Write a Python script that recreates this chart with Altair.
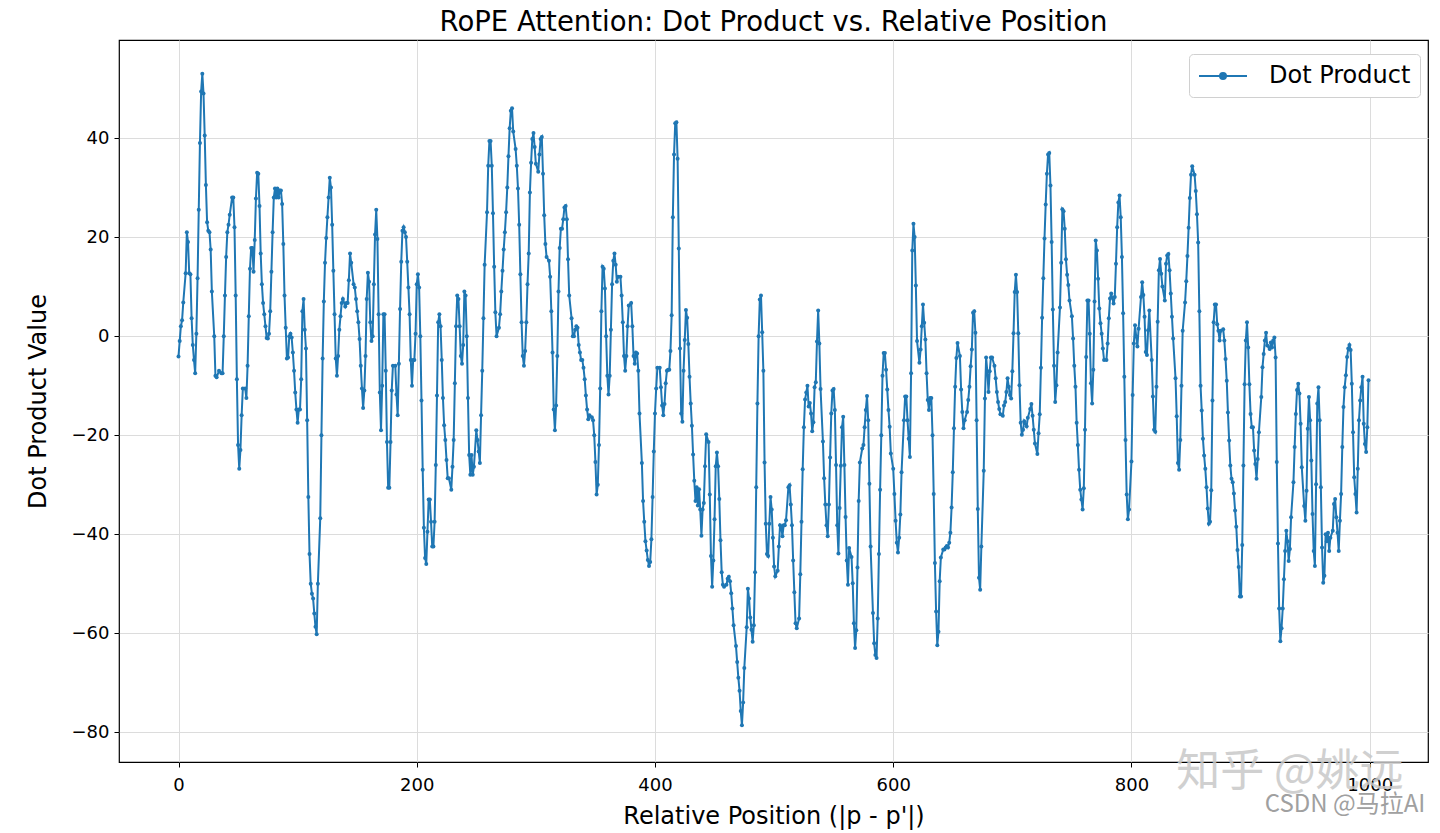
import altair as alt
import pandas as pd

# Relative position |p - p'| and dot product
seg_000 = [(0,-4.1),(1,-1),(2,2),(3,3.2),(4,6.8),(6,12.7),(7,21),(8,19),(9,12.7),(10,12.5),(11,3.6),(12,-1.8),(13,-4.8),(14,-7.5),(15,0.5),(16,11.7),(17,25.5),(18,39),(19,49.4),(20,53),(21,49),(22,40.5),(23,30.5),(24,23),(25,21.3),(26,21),(27,17.5),(28,9),(30,0),(31,-8),(32,-8.3),(34,-7),(36,-7.5),(37,-7.5),(38,0),(39,8.2),(40,16),(41,21),(42,22.5),(43,24.5),(45,28),(46,28),(47,22),(48,8.2),(49,-8.7),(50,-22),(51,-26.8),(52,-23),(53,-16),(54,-10.6),(56,-10.6),(57,-12.5),(58,-6),(59,4),(60,13.6),(61,17.8),(62,17.8),(63,13),(64,19.4),(65,27.8),(66,33),(67,32.8),(68,26.3),(69,16.7),(70,10.5),(71,6.7),(72,4.4),(73,2),(74,-0.4),(75,-0.5),(76,0.5),(77,5)]
seg_078 = [(78,13),(79,21),(80,28),(81,29.8),(82,28),(83,29.8),(84,28),(85,29.4),(86,29.4),(87,26.7),(88,18.6),(89,8.2),(90,1.7),(91,-4.5),(92,-4.3),(93,0),(94,0.5),(95,-0.3),(96,-3.3),(97,-7),(98,-11.4),(99,-14.8),(100,-17.5),(101,-14.8),(102,-14.8),(103,-8.7),(104,5),(105,7.5),(106,1.3),(107,-2.5),(108,-17),(109,-32.5),(110,-44),(111,-50),(112,-52),(113,-53),(114,-56),(115,-58.7),(116,-60.2),(117,-50),(119,-36.8),(120,-20),(121,-4.5),(122,7),(123,14.8),(124,19.8),(125,24),(126,28),(127,32),(128,30),(129,22.5),(130,13.2),(131,4.4),(132,-4.5),(133,-8),(134,-4),(135,1.3),(136,4),(137,6.7),(138,7.5),(140,6),(141,6.7),(142,6.7),(143,11.3),(144,16.7),(145,14.8),(147,10.5),(148,9.8),(149,7.5),(150,5),(151,2.8),(152,-0.6),(153,-6),(154,-10.6),(155,-14.5),(156,-11),(157,-4),(158,7.5),(159,12.8),(160,11),(161,2.8)]
seg_162 = [(162,-1),(163,0),(164,10.5),(165,20.5),(166,25.5),(167,19.6),(168,4.4),(169,-11.4),(170,-19),(171,-10),(172,4.4),(173,4.4),(174,-7),(175,-21.4),(176,-30.6),(177,-30.6),(178,-21.4),(179,-11),(180,-6),(182,-6),(183,-11.8),(184,-16),(185,-5.6),(186,5.5),(187,15),(188,21.3),(189,22),(190,21),(191,20),(192,15),(193,9.8),(194,4.4),(195,-4.8),(196,-10),(197,-4.8),(198,-4.8),(199,0.5),(200,10.5),(201,12.5),(202,9.8),(203,0),(204,-13),(205,-27),(206,-38.7),(207,-44.8),(208,-46),(209,-39.5),(210,-33),(211,-33),(212,-37.5),(213,-42.5),(214,-42.5),(215,-37.5),(216,-26),(217,-12),(218,2.8),(219,4.4),(220,2),(221,-4.8),(222,-12.5),(223,-18),(224,-21),(225,-25),(226,-28.7),(227,-28.7),(229,-31),(230,-26.4),(231,-21),(232,-9.5),(233,2),(234,8.2),(235,7.5),(236,2),(237,-4),(238,-5.6),(239,-1.8),(240,9),(241,8.2),(242,0),(243,-12.5),(244,-24),(245,-28),(246,-24)]
seg_247 = [(247,-28),(248,-26.4),(250,-19),(251,-21),(252,-23.3),(253,-25.6),(254,-16),(255,-7),(256,3.6),(257,14.4),(259,25),(260,34.4),(261,39.4),(262,39.4),(263,34.4),(264,24.8),(265,14),(266,4.8),(267,0),(269,1.7),(270,4.4),(271,9),(272,13.2),(273,17.5),(274,21),(275,25),(276,30),(277,36.3),(278,42),(279,45.5),(280,46),(281,41.3),(283,37.8),(284,34.4),(285,29.8),(286,22.5),(287,12.5),(288,2.8),(289,-4),(290,-6),(291,-3),(292,2.8),(293,10.5),(294,16.7),(295,29),(296,35),(297,39.8),(298,41),(299,38.2),(300,34.8),(302,33.2),(303,36.7),(304,39.8),(305,40.2),(306,32.8),(307,24.4),(308,18.6),(309,16),(311,15.2),(312,12),(313,5),(314,-3.3),(315,-14.8),(316,-19),(317,-14),(318,-4),(319,9),(320,17.8),(321,21.7),(322,21.7),(323,23.6),(324,26),(325,26.3),(326,23.6),(327,15.5),(328,8.2),(330,3.6),(331,0)]
seg_332 = [(332,0),(333,1.3),(334,2),(335,1.7),(336,-1.8),(337,-3.3),(338,-4.8),(339,-4.8),(340,-6.4),(341,-8.7),(342,-12),(343,-14.8),(344,-16.8),(345,-16),(347,-16.4),(348,-17),(349,-20),(350,-25.4),(351,-32),(352,-30),(353,-22),(354,-10.6),(355,5),(356,14),(357,13.6),(358,9.6),(359,0),(360,-8),(361,-11.8),(362,-8),(363,1.3),(364,10.5),(365,15.2),(366,16.7),(367,14.4),(368,11),(369,12),(371,12),(372,8.2),(373,2.8),(374,-4),(375,-7),(376,-4),(377,2),(378,6.2),(380,6.7),(381,2),(382,-4),(383,-5.6),(384,-3.3),(385,-3.5),(386,-7),(387,-15.6),(389,-25.6),(390,-33.3),(391,-37.5),(392,-41.4),(393,-43.3),(394,-45.2),(395,-46.4),(396,-45.6),(397,-41),(398,-32.5),(399,-23.3),(400,-15.6),(401,-10.6),(402,-6.4),(404,-6.4),(405,-10.3),(406,-14),(407,-16),(408,-13.7),(409,-9.5),(410,-7),(411,-6.8),(412,-6.8),(413,-3),(414,4.2),(415,24),(416,36.7),(417,43)]
seg_418 = [(418,43.2),(419,35.8),(420,17.7),(421,-2.5),(422,-15.6),(423,-17.3),(424,-7),(425,-0.8),(426,5.3),(427,3.7),(428,-1.6),(429,-8.2),(430,-13.6),(431,-18.1),(432,-23.9),(433,-29.2),(434,-33.3),(435,-30.5),(436,-34.2),(437,-30.9),(438,-35),(439,-40.3),(440,-35),(441,-33.7),(442,-26.3),(443,-19.8),(445,-21.4),(446,-32),(447,-44.4),(448,-50.6),(449,-45.3),(450,-37),(451,-26.3),(452,-23.5),(453,-26.3),(454,-32.9),(455,-41.2),(456,-47.7),(457,-50.2),(458,-50.6),(460,-50.2),(461,-49),(462,-48.6),(463,-49.5),(464,-51.9),(465,-55),(466,-58.4),(468,-62.6),(469,-65.8),(470,-69),(471,-71.6),(472,-75.7),(473,-78.6),(474,-74),(475,-67),(477,-58.8),(478,-51),(479,-53),(480,-56.8),(481,-59.3),(482,-61.7),(483,-58.4),(484,-47.7),(485,-30.5),(486,-13.6),(487,0),(488,7.4),(489,8.2),(490,0.8),(491,-7),(492,-25.5),(493,-37.9),(494,-44),(495,-44.4),(496,-37.9),(497,-32.5),(498,-35),(499,-40.7),(500,-46.5)]
seg_501 = [(501,-48.5),(503,-47.4),(504,-42.5),(505,-38.2),(506,-38.5),(507,-40.4),(508,-38.2),(509,-38.2),(510,-37.2),(512,-30.5),(513,-30.1),(514,-34),(515,-38.2),(516,-45.3),(517,-51.7),(518,-58),(519,-59),(521,-57),(522,-48.1),(523,-37.5),(524,-26.9),(525,-18.4),(526,-12.8),(527,-11.4),(528,-10),(529,-14.2),(530,-13.5),(531,-15.6),(532,-19.2),(533,-17.4),(534,-10.3),(535,-9.3),(536,-1.1),(537,5.2),(538,-1.5),(539,-10.7),(541,-21.3),(542,-28.7),(543,-34),(544,-38.2),(545,-40.4),(546,-34),(547,-24.5),(548,-15.6),(549,-11),(550,-10.7),(551,-14.9),(552,-26),(553,-38.2),(554,-43.9),(555,-34.7),(556,-26.2),(557,-18.4),(558,-16.3),(559,-26),(560,-36.5),(561,-45.3),(562,-50.2),(563,-42.8),(565,-44.6),(566,-49.9),(567,-58),(568,-63),(569,-59.4),(570,-46.7),(571,-33.3),(572,-25.5),(574,-22.7),(575,-22),(576,-18.4),(577,-14.9),(578,-12.1),(579,-17),(580,-29.8),(581,-42.5),(583,-55.9),(584,-62),(585,-64.4)]
seg_586 = [(586,-65),(587,-57),(588,-44),(589,-31),(590,-20),(591,-8),(592,-3.4),(593,-3.4),(594,-6.8),(595,-10.8),(596,-14.9),(597,-18.3),(598,-23.7),(600,-26.8),(601,-31.9),(602,-37.3),(603,-41.7),(604,-43.7),(605,-40.7),(606,-36),(607,-27.5),(609,-17),(610,-12.2),(611,-12.2),(612,-17),(613,-20.7),(614,-24.4),(615,-7.5),(616,17.3),(617,22.7),(618,20),(619,10.2),(620,-1),(622,-5.4),(623,-2.7),(624,2),(625,6.4),(626,2.7),(627,-0.7),(628,-7.5),(629,-12.9),(630,-14.9),(631,-12.5),(632,-12.5),(633,-20),(634,-31.9),(635,-45.8),(636,-55.6),(637,-62.4),(638,-59.7),(639,-49.5),(640,-44.7),(642,-43.1),(643,-43.1),(644,-42.7),(645,-42.4),(646,-42.7),(647,-41.7),(648,-39.7),(649,-34.6),(650,-27.5),(651,-18.6),(652,-10.2),(653,-4.4),(654,-1.4),(656,-4),(657,-10.8),(658,-15.3),(659,-18.6),(660,-17),(662,-15.3),(663,-12.9),(664,-10.2),(665,-6.1),(666,-2.7),(667,4.7),(668,5),(669,0.7),(670,-17)]
seg_671 = [(671,-34.9),(672,-48.8),(673,-51.2),(674,-42.5),(676,-27.2),(677,-12.6),(678,-4.3),(679,-7.1),(680,-11.3),(681,-7.1),(682,-4.3),(683,-4.3),(685,-6),(686,-8.5),(687,-11.3),(688,-13.3),(689,-14.7),(690,-15.8),(692,-16.1),(693,-14),(694,-13.3),(695,-11.3),(696,-8.5),(697,-10.2),(698,-11.9),(699,-12.6),(700,-7.1),(701,0.6),(702,8.9),(703,12.4),(704,8.9),(705,0.6),(706,-9.9),(707,-17.5),(708,-19.9),(709,-18.9),(710,-17.2),(712,-18.2),(713,-16.5),(715,-14.7),(716,-13.7),(717,-16.1),(718,-18.9),(719,-21.7),(721,-23.8),(722,-19.6),(723,-15.8),(724,-6.4),(725,3.7),(726,11.7),(727,19.7),(728,26.6),(729,32.8),(730,36.7),(731,37),(732,30.4),(733,19),(734,5.4),(735,-6),(736,-13.3),(737,-9.9),(738,-3.3),(740,5.8),(741,14.8),(742,25.6),(743,25.2),(744,21.7),(745,15.5),(746,12.4),(747,10.3),(748,7.2),(750,4),(751,-0.5),(752,-6),(753,-10.2),(754,-17.5)]
seg_755 = [(755,-22),(756,-27),(757,-31),(758,-33),(759,-35),(760,-30.7),(761,-18.9),(762,-4.2),(763,7.2),(764,7.2),(765,0.5),(766,-9.5),(767,-13.6),(768,-6.8),(769,7),(770,19.3),(771,17.3),(772,11.6),(773,5.6),(774,2.6),(775,0.5),(776,-2.5),(777,-4.8),(779,-4.8),(780,-1.5),(781,3.6),(782,7.6),(783,8.6),(785,6.6),(786,7.9),(787,14.6),(788,22),(789,27),(790,28.4),(791,24),(792,16),(793,4.6),(794,-8.2),(795,-21),(796,-32),(797,-37),(798,-35),(800,-25.3),(801,-11.9),(802,-1.5),(803,2.2),(804,-0.1),(805,-2.1),(806,1.5),(808,7.9),(809,10.9),(810,8.3),(811,3.9),(812,-3.2),(813,-3.8),(814,1.2),(815,5.2),(817,-4.8),(818,-12.2),(819,-18.9),(820,-19.3),(821,-10.2),(822,2.9),(823,13.3),(824,15.6),(825,12.6),(826,10),(828,7.2),(829,14.6),(830,16.3),(831,16.6),(832,13.3),(833,8.6),(834,3.9),(835,-0.5),(837,-8.5),(838,-16.2),(839,-25.6)]
seg_840 = [(840,-27),(841,-21),(842,-10),(843,1.1),(845,6.8),(846,11.1),(847,16.2),(848,21.9),(849,27.9),(850,32.6),(851,34.3),(853,32.6),(854,29.3),(855,24.6),(856,18.9),(857,5),(858,-10),(859,-15),(860,-20.7),(861,-24.1),(862,-26.8),(863,-30.5),(864,-34.8),(865,-37.9),(866,-37.5),(867,-31.1),(868,-13),(869,2.8),(870,6.4),(871,6.4),(872,2.4),(873,1.1),(874,-0.9),(875,1.1),(877,1.4),(878,-0.9),(879,-4.6),(880,-9),(881,-15.4),(882,-21.1),(883,-26.1),(884,-28.8),(885,-29.5),(886,-31.8),(887,-35.2),(888,-38.5),(889,-43.2),(890,-46.6),(891,-52.6),(892,-52.6),(893,-42.2),(894,-26.1),(895,-9.7),(896,-0.9),(897,2.8),(898,-2.3),(899,-9.7),(900,-15.7),(901,-18.4),(902,-18.4),(903,-23.1),(904,-25.8),(905,-28.8),(906,-24.8),(907,-19.4),(909,-12.3),(910,-6.3),(911,-3.6),(912,-0.9),(913,0.7),(914,-1.9),(916,-2.6),(917,-1.3),(918,-2.3),(919,-0.9),(920,-0.3),(921,-4.3),(922,-25.4),(923,-41.9),(924,-55)]
seg_925 = [(925,-61.6),(926,-59),(927,-55),(928,-49.1),(929,-43.4),(930,-39.3),(931,-41.4),(932,-45.4),(933,-43),(934,-36.6),(936,-29.5),(937,-22.4),(938,-15.7),(939,-10.9),(940,-9.6),(941,-11.6),(942,-17.7),(943,-26.5),(945,-34.3),(946,-37.3),(947,-31.2),(948,-18.7),(949,-12.3),(950,-17),(951,-25.1),(952,-35.9),(953,-43.4),(954,-46.4),(955,-29.9),(956,-13.6),(957,-10.3),(958,-17),(959,-30.5),(960,-42.7),(961,-49.8),(962,-48.4),(963,-40),(964,-41.4),(965,-39.7),(966,-43.4),(967,-40.7),(969,-39.3),(970,-33.9),(971,-32.9),(972,-36.6),(973,-39.7),(974,-43.4),(975,-37.3),(976,-31.9),(977,-22.4),(978,-14.3),(979,-10.3),(980,-7.9),(981,-4.2),(982,-2.5),(983,-1.8),(984,-2.8),(985,-9.6),(986,-19.4),(987,-28.5),(988,-31.9),(989,-35.6),(990,-26.8),(991,-17),(992,-13),(993,-10.3),(994,-8.2),(995,-17.7),(996,-21.8),(997,-23.4),(998,-18.4),(999,-8.9)]

segments = [seg_000, seg_078, seg_162, seg_247, seg_332, seg_418, seg_501,
            seg_586, seg_671, seg_755, seg_840, seg_925]

x_ticks = [0, 200, 400, 600, 800, 1000]
y_ticks = [-80, -60, -40, -20, 0, 20, 40]
series_name = "Dot Product"
watermarks = ["知乎 @姚远", "CSDN @马拉AI"]

rows = [p for seg in segments for p in seg]
df = pd.DataFrame(rows, columns=["pos", "dot"])
df["series"] = series_name

FONT = "DejaVu Sans"
BLUE = "#1f77b4"
# legend handle: a line with a dot in its middle (unit = half the symbol box)
legend_symbol = "M-1,0H3M0.75,0A0.25,0.25,0,1,1,1.25,0A0.25,0.25,0,1,1,0.75,0Z"

line = alt.Chart(df).mark_line(
    strokeWidth=2,
    point=alt.OverlayMarkDef(filled=True, size=16, color=BLUE),
).encode(
    x=alt.X("pos:Q",
            scale=alt.Scale(domain=[-49.95, 1048.95], nice=False, zero=False),
            axis=alt.Axis(values=x_ticks, format="d",
                          title="Relative Position (|p - p'|)",
                          titlePadding=10, labelPadding=9)),
    y=alt.Y("dot:Q",
            scale=alt.Scale(domain=[-86, 59.8], nice=False, zero=False),
            axis=alt.Axis(values=y_ticks, format="d", title="Dot Product Value",
                          titlePadding=21, labelPadding=5)),
    color=alt.Color("series:N",
                    scale=alt.Scale(domain=[series_name], range=[BLUE]),
                    legend=alt.Legend(
                        title=None, orient="none", legendX=1070, legendY=14,
                        fillColor="white", strokeColor="#d0d0d0", cornerRadius=4,
                        padding=9, labelFont=FONT, labelFontSize=24,
                        labelColor="black", labelOffset=45,
                        symbolType=legend_symbol, symbolSize=576,
                        symbolStrokeWidth=2, symbolFillColor=BLUE,
                        symbolStrokeColor=BLUE)),
)

wm1 = alt.Chart(pd.DataFrame({"t": [watermarks[0]]})).mark_text(
    font="Noto Sans CJK SC", fontSize=44, color="#c8c8c8", opacity=0.85,
    align="center", baseline="middle"
).encode(x=alt.value(1171), y=alt.value(733), text="t:N")

wm2 = alt.Chart(pd.DataFrame({"t": [watermarks[1]]})).mark_text(
    font="Noto Sans CJK SC", fontSize=24, color="#a0a0a0",
    align="center", baseline="middle"
).encode(x=alt.value(1226), y=alt.value(765), text="t:N")

chart = alt.layer(line, wm1, wm2).properties(
    width=1309,
    height=722,
    title=alt.Title("RoPE Attention: Dot Product vs. Relative Position",
                    font=FONT, fontSize=27.5, fontWeight="normal",
                    color="black", offset=4),
    padding={"left": 111, "top": 32, "right": 4, "bottom": 70},
    autosize=alt.AutoSizeParams(type="none"),
    background="white",
).configure_view(
    stroke="black", strokeWidth=1.2
).configure_axis(
    labelFont=FONT, labelFontSize=18, labelColor="black",
    titleFont=FONT, titleFontSize=24, titleFontWeight="normal",
    titleColor="black", tickColor="black", tickSize=5, tickWidth=1,
    gridColor="#dcdcdc", gridWidth=1, domain=False,
)

chart.save("out.html", embed_options={"renderer": "svg", "actions": False})
